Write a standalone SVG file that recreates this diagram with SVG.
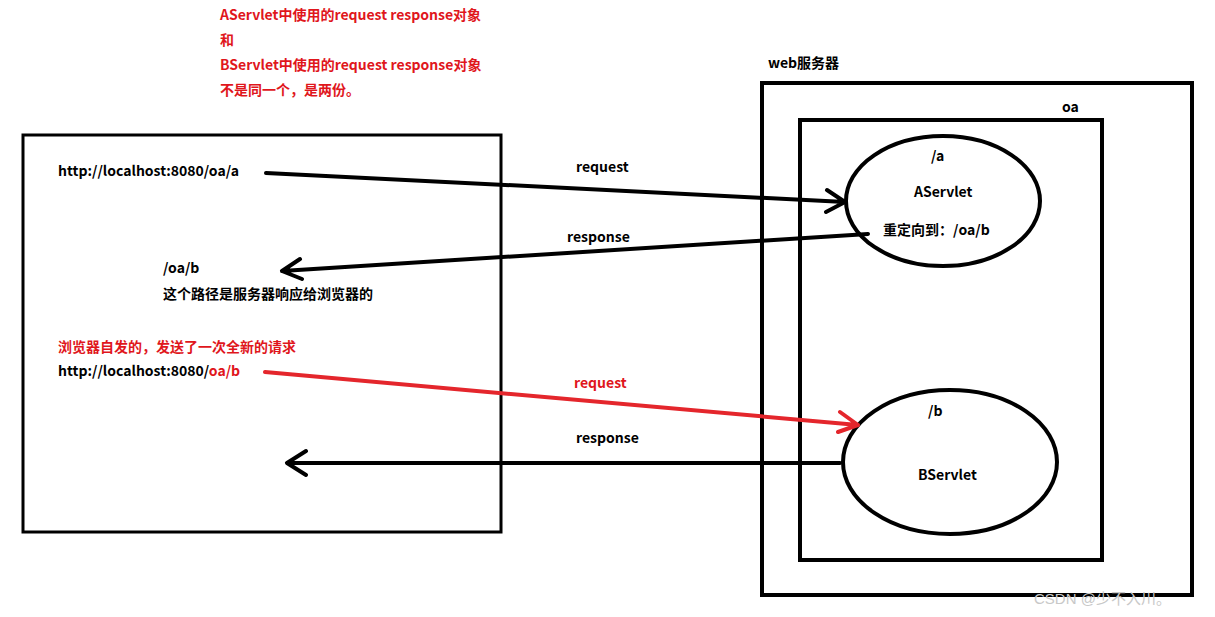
<svg xmlns="http://www.w3.org/2000/svg" width="1215" height="617" viewBox="0 0 1215 617">
<style>
text{font-family:"Noto Sans CJK SC","Liberation Sans",sans-serif;font-size:14px;font-weight:bold;fill:#000}
.r{fill:#e0161c}
.box{fill:none;stroke:#000}
.k{fill:none;stroke:#000;stroke-width:4;stroke-linecap:round;stroke-linejoin:round}
.kr{fill:none;stroke:#e4262c;stroke-width:4;stroke-linecap:round;stroke-linejoin:round}
</style>
<rect width="1215" height="617" fill="#fff"/>
<g id="note">
<text x="220" y="20" class="r">AServlet中使用的request response对象</text>
<text x="220" y="45" class="r">和</text>
<text x="220" y="70" class="r">BServlet中使用的request response对象</text>
<text x="220" y="95" class="r">不是同一个，是两份。</text>
</g>
<g id="browser">
<rect class="box" x="23" y="135" width="478" height="397" stroke-width="3"/>
<text x="58" y="176">http://localhost:8080/oa/a</text>
<text x="163" y="273">/oa/b</text>
<text x="163" y="299">这个路径是服务器响应给浏览器的</text>
<text x="58" y="352" class="r">浏览器自发的，发送了一次全新的请求</text>
<text x="58" y="376">http://localhost:8080/<tspan class="r">oa/b</tspan></text>
</g>
<g id="webserver">
<rect class="box" x="762" y="83" width="430" height="512" stroke-width="4"/>
<text x="768" y="68">web服务器</text>
</g>
<g id="oa">
<rect class="box" x="800" y="120" width="302" height="440" stroke-width="4"/>
<text x="1062" y="112">oa</text>
</g>
<g id="aservlet">
<ellipse class="box" cx="943" cy="201" rx="97" ry="65" stroke-width="4"/>
<text x="931" y="161">/a</text>
<text x="914" y="197">AServlet</text>
<text x="883" y="235">重定向到：/oa/b</text>
</g>
<g id="bservlet">
<ellipse class="box" cx="950" cy="462" rx="107" ry="72" stroke-width="4"/>
<text x="928" y="416">/b</text>
<text x="918" y="480">BServlet</text>
</g>
<g id="connectors">
<path class="k" d="M266 173 L845 202 M827 190 L845 202 L826 212"/>
<text x="576" y="172">request</text>
<path class="k" d="M868 234 L282 271 M300 259 L282 271 L302 279"/>
<text x="567" y="242">response</text>
<path class="kr" d="M265 372 L858 425 M840 412 L858 425 L838 432"/>
<text x="574" y="388" class="r">request</text>
<path class="k" d="M840 463 L287 463 M306 451 L287 463 L306 475"/>
<text x="576" y="443">response</text>
</g>
<text x="1034" y="604" style="font-weight:normal;font-size:15px;fill:#c8c8c8;font-family:'Liberation Sans','Noto Sans CJK SC',sans-serif">CSDN @少不入川。</text>
</svg>
